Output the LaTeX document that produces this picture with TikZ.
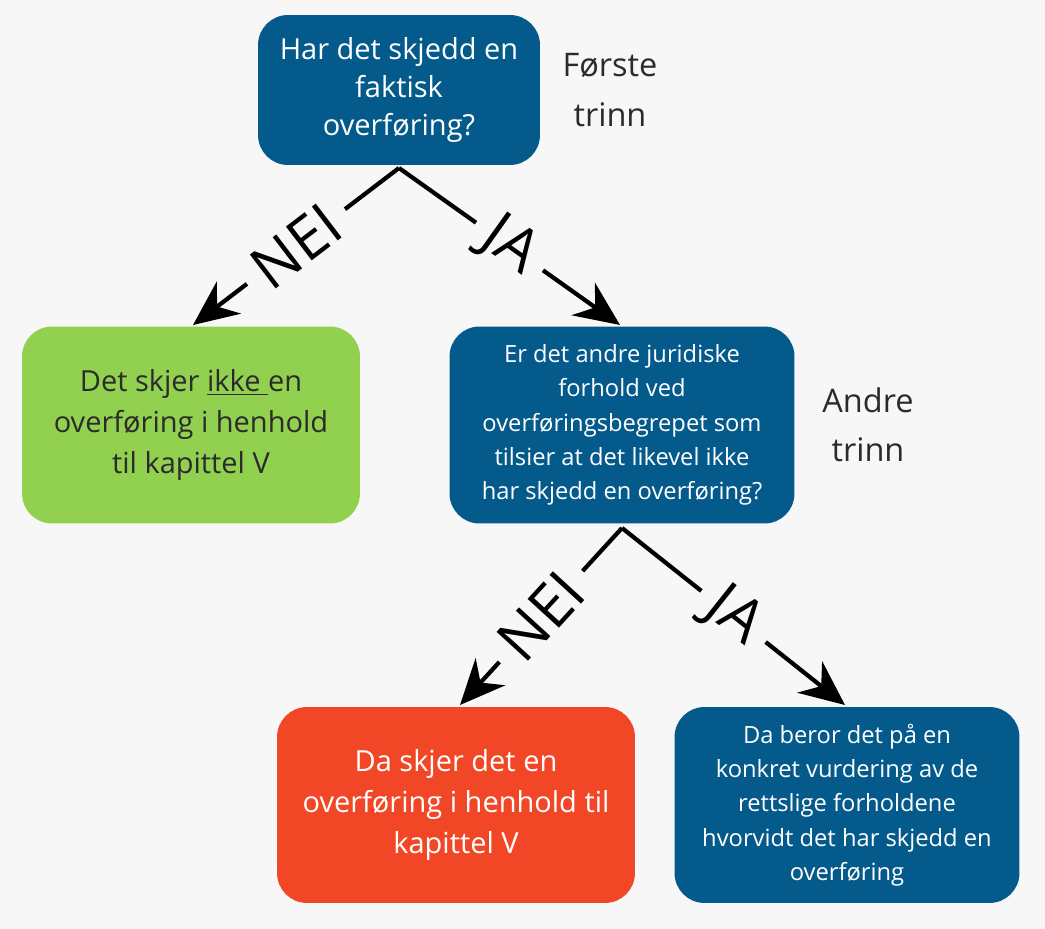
\documentclass[tikz,border=0pt]{standalone}
\usepackage{fontspec}
\setmainfont{Open Sans}
\usetikzlibrary{arrows.meta,positioning}
\definecolor{bg}{HTML}{F7F7F7}
\definecolor{boxblue}{HTML}{055A8C}
\definecolor{boxgreen}{HTML}{92D050}
\definecolor{boxred}{HTML}{F24726}
\definecolor{txt}{HTML}{2B2B2B}
\tikzset{
  box/.style={rounded corners=0.6cm, align=center, inner sep=0pt, text=white},
  answer/.style={line width=2.4pt, -{Stealth[length=0.9cm,width=0.8cm]}},
  answerlabel/.style={sloped, fill=bg, font=\fontsize{34}{38}\selectfont, inner sep=8pt, text=black},
  steplabel/.style={align=center, text=txt, font=\fontsize{18.5}{28}\selectfont}
}
\begin{document}
\begin{tikzpicture}[x=0.02cm, y=-0.02cm]
  \fill[bg] (0,0) rectangle (1045,929);
  % spørsmål
  \node[box, fill=boxblue, minimum width=5.64cm, minimum height=3cm,
        font=\fontsize{16.5}{21.5}\selectfont] (q1) at (399,90)
        {Har det skjedd en\\faktisk\\overføring?};
  \node[steplabel] (s1) at (610,90) {Første\\trinn};
  \node[box, fill=boxgreen, text=txt, minimum width=6.76cm, minimum height=3.94cm,
        font=\fontsize{16.5}{23.5}\selectfont] (no1) at (191,425)
        {Det skjer \underline{ikke\ }en\\overføring i henhold\\til kapittel V};
  \node[box, fill=boxblue, minimum width=6.9cm, minimum height=3.94cm,
        font=\fontsize{13.5}{19.5}\selectfont] (q2) at (622,425)
        {Er det andre juridiske\\forhold ved\\overføringsbegrepet som\\tilsier at det likevel ikke\\har skjedd en overføring?};
  \node[steplabel] (s2) at (868,425) {Andre\\trinn};
  \node[box, fill=boxred, minimum width=7.16cm, minimum height=3.92cm,
        font=\fontsize{16.5}{23.5}\selectfont] (no2) at (456,805)
        {Da skjer det en\\overføring i henhold til\\kapittel V};
  \node[box, fill=boxblue, minimum width=6.9cm, minimum height=3.92cm,
        font=\fontsize{13.5}{19.5}\selectfont] (yes2) at (847,805)
        {Da beror det på en\\konkret vurdering av de\\rettslige forholdene\\hvorvidt det har skjedd en\\overføring};
  % piler
  \coordinate (t1) at (399,168);
  \coordinate (t2) at (622,528);
  \draw[answer] (t1) -- node[answerlabel] {NEI} (193,325);
  \draw[answer] (t1) -- node[answerlabel] {JA} (620,325);
  \draw[answer] (t2) -- node[answerlabel] {NEI} (460,705);
  \draw[answer] (t2) -- node[answerlabel] {JA} (845,705);
\end{tikzpicture}
\end{document}
